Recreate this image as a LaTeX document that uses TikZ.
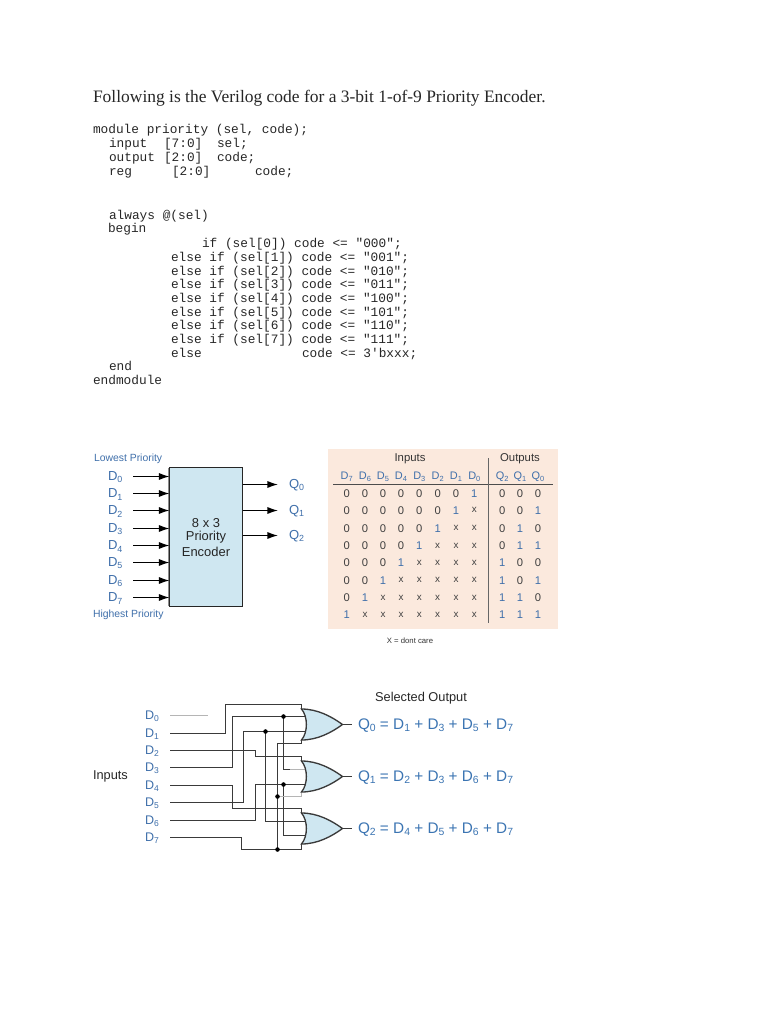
\documentclass[tikz,border=0pt]{standalone}
\usepackage{fontspec}
\setmainfont{Liberation Serif}
\setsansfont{Liberation Sans}
\setmonofont{Liberation Mono}
\usetikzlibrary{arrows.meta}
\definecolor{lblue}{HTML}{3F6FAA}
\definecolor{eqblue}{HTML}{3B74B2}
\definecolor{gatefill}{HTML}{CFE7F1}
\definecolor{tablebg}{HTML}{FBE9DD}
\definecolor{wirec}{HTML}{3A3A3A}
\definecolor{lightwire}{HTML}{B5B5B5}
\newcommand\sbs[1]{\raisebox{-.3ex}{\scalebox{.68}{#1}}}
\newcommand\tbval[1]{\if#11\textcolor{lblue}{1}\else\if#1x{\fontsize{7.4}{8}\selectfont x}\else 0\fi\fi}
\tikzset{
  txt/.style={inner sep=0pt,outer sep=0pt},
  stxt/.style={txt,yshift=-0.75pt},
  code/.style={txt,anchor=base west,font=\ttfamily\fontsize{9.6}{11}\selectfont,text=black!85},
  dlabel/.style={stxt,anchor=west,font=\sffamily\fontsize{9.8}{11}\selectfont,text=lblue},
  dlabelb/.style={stxt,anchor=west,font=\sffamily\fontsize{9.4}{11}\selectfont,text=lblue},
  prio/.style={stxt,anchor=west,font=\sffamily\fontsize{7.8}{9}\selectfont,text=lblue},
  enc/.style={stxt,font=\sffamily\fontsize{9.7}{11}\selectfont,text=black!85},
  thead/.style={stxt,font=\sffamily\fontsize{8.5}{10}\selectfont,text=black!80},
  colhead/.style={stxt,font=\sffamily\fontsize{8.2}{9}\selectfont,text=lblue},
  cell/.style={stxt,font=\sffamily\fontsize{8.4}{10}\selectfont,text=black!75},
  bigarrow/.style={-{Latex[length=8pt,width=5.4pt]},line width=1pt,draw=black},
  wire/.style={draw=wirec,line width=1.05pt},
  lwire/.style={draw=lightwire,line width=1pt},
  jdot/.style={circle,fill=black,inner sep=0pt,minimum size=3.4pt},
  eqn/.style={stxt,anchor=west,font=\sffamily\fontsize{11.5}{13}\selectfont,text=eqblue},
  orgate/.pic={
    \path[fill=gatefill,draw=wirec,line width=1pt]
      (0,-15.5) .. controls (16,-15.5) and (30,-8) .. (41,0)
      .. controls (30,8) and (16,15.5) .. (0,15.5)
      .. controls (6.5,8) and (6.5,-8) .. (0,-15.5) -- cycle;
  }
}
\begin{document}
\begin{tikzpicture}[x=0.75pt,y=-0.75pt]
\useasboundingbox (0,0) rectangle (768,1024);
% heading
\node[txt,anchor=base west,font=\fontsize{13.1}{15}\selectfont,text=black!85] (title) at (93,103) {Following is the Verilog code for a 3-bit 1-of-9 Priority Encoder.};
% code
\node[code] (l1) at (93,133) {module~priority~(sel,~code);};
\node[code] (l2a) at (109,147) {input};
\node[code] (l2b) at (164,147) {[7:0]};
\node[code] (l2c) at (217,147) {sel;};
\node[code] (l3a) at (109,161) {output};
\node[code] (l3b) at (164,161) {[2:0]};
\node[code] (l3c) at (217,161) {code;};
\node[code] (l4a) at (109,175) {reg};
\node[code] (l4b) at (172,175) {[2:0]};
\node[code] (l4c) at (255,175) {code;};
\node[code] (l5) at (109,219) {always~@(sel)};
\node[code] (l6) at (108,232) {begin};
\node[code] (l7) at (202,247) {if~(sel[0])~code~<=~"000";};
\node[code] (l8) at (171,261) {else~if~(sel[1])~code~<=~"001";};
\node[code] (l9) at (171,275) {else~if~(sel[2])~code~<=~"010";};
\node[code] (l10) at (171,288) {else~if~(sel[3])~code~<=~"011";};
\node[code] (l11) at (171,302) {else~if~(sel[4])~code~<=~"100";};
\node[code] (l12) at (171,316) {else~if~(sel[5])~code~<=~"101";};
\node[code] (l13) at (171,329) {else~if~(sel[6])~code~<=~"110";};
\node[code] (l14) at (171,343) {else~if~(sel[7])~code~<=~"111";};
\node[code] (l15a) at (171,357) {else};
\node[code] (l15b) at (302,357) {code~<=~3'bxxx;};
\node[code] (l16) at (109,370) {end};
\node[code] (l17) at (93,384) {endmodule};
% encoder block
\node[prio] (low) at (94,458) {Lowest Priority};
\node[prio] (high) at (93,614) {Highest Priority};
\draw[draw=black!85,line width=1pt,fill=gatefill] (169.5,467.5) rectangle (242.5,606.5);
\coordinate (encnw) at (169.5,467.5);
\coordinate (encne) at (242.5,467.5);
\draw[draw=black!45,line width=.75pt] (168.5,468) -- (168.5,606);
\node[enc] (e1) at (206,521.7) {8 x 3};
\node[enc] (e2) at (206,536.5) {Priority};
\node[enc] (e3) at (206,551) {Encoder};
\foreach \n/\y in {0/476.5,1/493.5,2/510.5,3/528.5,4/545.5,5/562.5,6/580.5,7/597.5}{
  \node[dlabel] (id\n) at (108,\y) {D\sbs{\n}};
  \coordinate (ia\n) at (133,\y);
  \draw[bigarrow] (ia\n) -- (ia\n -| encnw);
}
\foreach \n/\y in {0/484.5,1/510.5,2/535.5}{
  \node[dlabel] (oq\n) at (289,\y) {Q\sbs{\n}};
  \coordinate (oa\n) at (278,\y);
  \draw[bigarrow] (oa\n -| encne) -- (oa\n);
}
% table
\fill[tablebg] (328,449) rectangle (558,629);
\node[thead] (tin) at (410,458) {Inputs};
\node[thead] (tout) at (520,458) {Outputs};
\foreach \t/\x [count=\c] in {D\sbs{7}/346.7,D\sbs{6}/365,D\sbs{5}/383,D\sbs{4}/401,D\sbs{3}/419.3,D\sbs{2}/437.7,D\sbs{1}/456,D\sbs{0}/474.3,Q\sbs{2}/502.3,Q\sbs{1}/520,Q\sbs{0}/538}{
  \node[colhead] (h\c) at (\x,475.7) {\t};
}
\draw[draw=black!70,line width=.85pt] (333,484.5) -- (552.7,484.5);
\draw[draw=black!60,line width=.85pt] (488.5,458) -- (488.5,622.7);
\foreach \y/\vals [count=\i] in {
  492.3/{0,0,0,0,0,0,0,1,0,0,0},
  509.3/{0,0,0,0,0,0,1,x,0,0,1},
  527.3/{0,0,0,0,0,1,x,x,0,1,0},
  544.7/{0,0,0,0,1,x,x,x,0,1,1},
  562/{0,0,0,1,x,x,x,x,1,0,0},
  579.3/{0,0,1,x,x,x,x,x,1,0,1},
  596.7/{0,1,x,x,x,x,x,x,1,1,0},
  614/{1,x,x,x,x,x,x,x,1,1,1}}{
  \foreach \v [count=\c] in \vals {
    \pgfmathsetmacro\cx{{346.7,365,383,401,419.3,437.7,456,474.3,502.3,520,538}[\c-1]}
    \node[cell] (c\i-\c) at (\cx,\y) {\tbval{\v}};
  }
}
\node[stxt,font=\sffamily\fontsize{5.8}{7}\selectfont,text=black!80] (xnote) at (410,639.7) {X = dont care};
% logic circuit
\node[stxt,font=\sffamily\fontsize{9.6}{11}\selectfont,text=black!85] (sel) at (421,697) {Selected Output};
\node[stxt,anchor=west,font=\sffamily\fontsize{9.6}{11}\selectfont,text=black!85] (inputs) at (93,775) {Inputs};
\foreach \n/\y in {0/715.5,1/733.5,2/750.5,3/767.5,4/785.5,5/802.5,6/820.5,7/837.5}{
  \node[dlabelb] (cd\n) at (145,\y) {D\sbs{\n}};
  \coordinate (w\n) at (170,\y);
}
\coordinate (ja) at (283.5,716.5);
\coordinate (jb) at (265.5,731.5);
\coordinate (jc) at (283.5,784.5);
\coordinate (jd) at (277.5,796.5);
\coordinate (je) at (277.5,849.5);
% wires
\draw[lwire] (w0) -- (208,715.5);
\draw[wire] (w1) -- (225.5,733.5) -- (225.5,704.5) -- (301.5,704.5) -- (301.5,709);
\draw[wire] (w3) -- (232.5,767.5) -- (232.5,716.5) -- (ja) -- (305,716.5);
\draw[wire] (w5) -- (243.5,802.5) -- (243.5,731.5) -- (jb) -- (305,731.5);
\draw[wire] (w7) -- (241.5,837.5) -- (241.5,849.5) -- (je) -- (301.5,849.5) -- (301.5,844);
\draw[wire] (je) -- (jd) -- (277.5,743.5) -- (301.5,743.5) -- (301.5,740);
\draw[wire] (w2) -- (255.5,750.5) -- (255.5,756.5) -- (301.5,756.5) -- (301.5,761);
\draw[wire] (ja) -- (283.5,769.5) -- (290,769.5);
\draw[lwire] (290,769.5) -- (305,769.5);
\draw[wire] (w4) -- (232.5,785.5) -- (232.5,808.5) -- (301.5,808.5) -- (301.5,813);
\draw[wire] (w6) -- (255.5,820.5) -- (255.5,784.5) -- (jc) -- (305,784.5);
\draw[wire] (jc) -- (283.5,835.5) -- (305,835.5);
\draw[wire] (jb) -- (265.5,821.5) -- (305,821.5);
\draw[lwire] (jd) -- (301.5,796.5) -- (301.5,792);
% gates
\pic at (301.5,724.5) {orgate};
\pic at (301.5,776.5) {orgate};
\pic at (301.5,828.5) {orgate};
\coordinate (t0) at (342.5,724.5);
\coordinate (t1) at (342.5,776.5);
\coordinate (t2) at (342.5,828.5);
\draw[wire] (t0) -- (352,724.5);
\draw[wire] (t1) -- (352,776.5);
\draw[wire] (t2) -- (352,828.5);
\foreach \j in {ja,jb,jc,jd,je}{ \node[jdot] (dot\j) at (\j) {}; }
% equations
\node[eqn] (q0) at (358,724.5) {Q\sbs{0} = D\sbs{1} + D\sbs{3} + D\sbs{5} + D\sbs{7}};
\node[eqn] (q1) at (358,776.5) {Q\sbs{1} = D\sbs{2} + D\sbs{3} + D\sbs{6} + D\sbs{7}};
\node[eqn] (q2) at (358,828.5) {Q\sbs{2} = D\sbs{4} + D\sbs{5} + D\sbs{6} + D\sbs{7}};
\end{tikzpicture}
\end{document}
